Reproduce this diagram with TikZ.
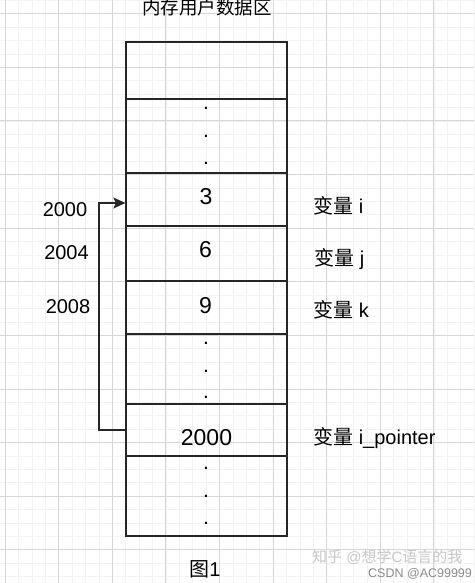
\documentclass[tikz,border=0pt]{standalone}
\usepackage{fontspec}
\setmainfont{Liberation Sans}
\newfontfamily\cjk{Noto Sans CJK SC}
\usetikzlibrary{arrows.meta}
\tikzset{
  minorline/.style={draw=black!5, line width=0.6pt},
  majorline/.style={draw=black!16, line width=0.8pt},
  cell/.style={draw=black!85, line width=1.3pt, rectangle, minimum width=161pt, inner sep=0pt, anchor=center},
  val/.style={inner sep=0pt, anchor=base, font=\fontsize{23}{26}\selectfont},
  addr/.style={inner sep=0pt, anchor=base, font=\fontsize{20}{24}\selectfont},
  var/.style={inner sep=0pt, anchor=base west, font=\fontsize{20}{24}\selectfont},
  dotmark/.style={inner sep=0pt, font=\fontsize{21}{24}\selectfont},
  ptr/.style={draw=black!85, line width=1.3pt, -{Stealth[length=12pt,width=11pt,inset=2.5pt]}}
}
\begin{document}
\begin{tikzpicture}[x=1pt,y=-1pt]
\useasboundingbox (0,0) rectangle (474,583);
\fill[white] (0,0) rectangle (474,583);
% grid
\foreach \i in {-1,...,36} {
  \draw[minorline] ({5+13.4*\i},0) -- ({5+13.4*\i},583);
}
\foreach \i in {-2,...,44} {
  \draw[minorline] (0,{13.7+13.4*\i}) -- (474,{13.7+13.4*\i});
}
\foreach \i in {0,...,8} {
  \draw[majorline] ({5+53.6*\i},0) -- ({5+53.6*\i},583);
}
\foreach \i in {0,...,10} {
  \draw[majorline] (0,{13.7+53.6*\i}) -- (474,{13.7+53.6*\i});
}
% title
\node[inner sep=0pt, anchor=base, font=\fontsize{18.5}{22}\selectfont\cjk] (title) at (207,15) {内存用户数据区};
% memory cells
\node[cell, minimum height=57pt] (r1) at (206.5,70.5) {};
\node[cell, minimum height=74pt] (r2) at (206.5,136) {};
\node[cell, minimum height=53pt] (r3) at (206.5,199.5) {};
\node[cell, minimum height=55pt] (r4) at (206.5,253.5) {};
\node[cell, minimum height=53pt] (r5) at (206.5,307.5) {};
\node[cell, minimum height=70pt] (r6) at (206.5,369) {};
\node[cell, minimum height=52pt] (r7) at (206.5,430) {};
\node[cell, minimum height=80pt] (r8) at (206.5,496) {};
% dots
\node[dotmark] (d21) at (206,108) {.};
\node[dotmark] (d22) at (206,136) {.};
\node[dotmark] (d23) at (206,163) {.};
\node[dotmark] (d61) at (206,343) {.};
\node[dotmark] (d62) at (206,371) {.};
\node[dotmark] (d63) at (206,397) {.};
\node[dotmark] (d81) at (206,468) {.};
\node[dotmark] (d82) at (206,496) {.};
\node[dotmark] (d83) at (206,523) {.};
% values
\node[val] (v3) at (206,204) {3};
\node[val] (v4) at (205.5,257.3) {6};
\node[val] (v5) at (205.5,313.3) {9};
\node[val] (v7) at (206.5,445) {2000};
% addresses
\node[addr] (a1) at (65,216.5) {2000};
\node[addr] (a2) at (66.5,259) {2004};
\node[addr] (a3) at (68,313) {2008};
% variable names
\node[var] (n1) at (313,213.3) {{\cjk 变量} i};
\node[var] (n2) at (314,265) {{\cjk 变量} j};
\node[var] (n3) at (313,317.7) {{\cjk 变量} k};
\node[var] (n4) at (313,444.3) {{\cjk 变量} i\_pointer};
% pointer arrow
\coordinate (bend) at (99,203);
\draw[ptr] (r7.west) -| (bend) -- (bend -| r3.west);
% caption
\node[inner sep=0pt, anchor=base, font=\fontsize{20}{24}\selectfont] (cap) at (205,576.5) {{\cjk 图}1};
% watermarks
\node[inner sep=0pt, anchor=base west, text=black!22, font=\fontsize{15}{18}\selectfont] (wm1) at (312,562) {{\cjk 知乎} @{\cjk 想学}C{\cjk 语言的我}};
\node[inner sep=0pt, anchor=base west, text=black!45, font=\fontsize{12.5}{15}\selectfont] (wm2) at (368,577.5) {CSDN @AC99999};
\end{tikzpicture}
\end{document}
